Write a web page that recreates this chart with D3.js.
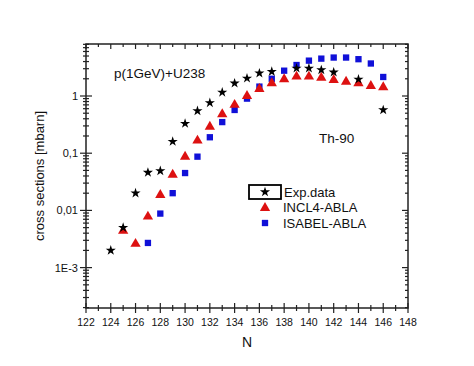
<!DOCTYPE html>
<html>
<head>
<meta charset="utf-8">
<script src="https://cdn.jsdelivr.net/npm/d3@7"></script>
<style>
  body { margin: 0; background: #fff; }
  text { font-family: "Liberation Sans", Arial, sans-serif; fill: #111; }
</style>
</head>
<body>
<svg id="chart" width="474" height="366"></svg>
<script>
// neutron number N and cross sections [mbarn]
const expN = [124, 125, 126, 127, 128, 129, 130, 131, 132, 133, 134, 135, 136, 137, 139, 140, 141, 142, 144, 146];
const expVal = [0.002, 0.005, 0.02, 0.046, 0.049, 0.16, 0.33, 0.55, 0.76, 1.16, 1.67, 2.04, 2.5, 2.67, 3.05, 3.05, 2.85, 2.6, 1.96, 0.57];

const inclN = [125, 126, 127, 128, 129, 130, 131, 132, 133, 134, 135, 136, 137, 138, 139, 140, 141, 142, 143, 144, 145, 146];
const inclVal = [0.0044, 0.0026, 0.0078, 0.0186, 0.042, 0.087, 0.166, 0.29, 0.48, 0.70, 1.0, 1.33, 1.67, 1.96, 2.18, 2.18, 2.09, 1.9, 1.78, 1.67, 1.5, 1.42];

const isaN = [127, 128, 129, 130, 131, 132, 133, 134, 135, 136, 137, 138, 139, 140, 141, 142, 143, 144, 145, 146];
const isaVal = [0.0027, 0.0088, 0.020, 0.045, 0.087, 0.19, 0.35, 0.57, 0.90, 1.46, 2.0, 2.77, 3.48, 4.15, 4.5, 4.7, 4.7, 4.4, 3.7, 2.15];

const xTicks = d3.range(122, 149, 2);
const xMinor = d3.range(123, 148, 2);
const yTicks = [1e-3, 0.01, 0.1, 1];
const yLabels = ["1E-3", "0,01", "0,1", "1"];

const svg = d3.select("#chart");
const L = 86, R = 408, T = 44, B = 308;

const x = d3.scaleLinear().domain([122, 148]).range([L, R]);
const y = d3.scaleLog().domain([Math.pow(10, -3.706), Math.pow(10, 0.909)]).range([B, T]);

const yMinor = [];
for (let d = -4; d <= 1; d++) {
    for (let k = 2; k <= 9; k++) {
        const v = k * Math.pow(10, d);
        if (v >= y.domain()[0] && v <= y.domain()[1]) yMinor.push(v);
    }
}

const ax = svg.append("g").attr("stroke", "#222").attr("stroke-width", 1.2);

// frame
ax.append("rect")
    .attr("x", L).attr("y", T)
    .attr("width", R - L).attr("height", B - T)
    .attr("fill", "none").attr("stroke-width", 1.5);

// bottom ticks (crossing), top ticks (inside)
ax.selectAll(".xb").data(xTicks).enter().append("line")
    .attr("x1", d => x(d)).attr("x2", d => x(d))
    .attr("y1", B - 5).attr("y2", B + 5);
ax.selectAll(".xbm").data(xMinor).enter().append("line")
    .attr("x1", d => x(d)).attr("x2", d => x(d))
    .attr("y1", B - 3).attr("y2", B + 3);
ax.selectAll(".xt").data(xTicks).enter().append("line")
    .attr("x1", d => x(d)).attr("x2", d => x(d))
    .attr("y1", T).attr("y2", T + 5);
ax.selectAll(".xtm").data(xMinor).enter().append("line")
    .attr("x1", d => x(d)).attr("x2", d => x(d))
    .attr("y1", T).attr("y2", T + 3);

// left ticks (crossing), right ticks (inside)
ax.selectAll(".yl").data(yTicks).enter().append("line")
    .attr("x1", L - 6).attr("x2", L + 6)
    .attr("y1", d => y(d)).attr("y2", d => y(d));
ax.selectAll(".ylm").data(yMinor).enter().append("line")
    .attr("x1", L - 3).attr("x2", L + 3)
    .attr("y1", d => y(d)).attr("y2", d => y(d));
ax.selectAll(".yr").data(yTicks).enter().append("line")
    .attr("x1", R - 6).attr("x2", R)
    .attr("y1", d => y(d)).attr("y2", d => y(d));
ax.selectAll(".yrm").data(yMinor).enter().append("line")
    .attr("x1", R - 3).attr("x2", R)
    .attr("y1", d => y(d)).attr("y2", d => y(d));

// tick labels
svg.selectAll(".xl").data(xTicks).enter().append("text")
    .attr("x", d => x(d)).attr("y", B + 18)
    .attr("text-anchor", "middle").attr("font-size", 10.5)
    .text(d => d);
svg.selectAll(".ylab").data(yTicks).enter().append("text")
    .attr("x", L - 8).attr("y", d => y(d) + 4)
    .attr("text-anchor", "end").attr("font-size", 11)
    .text((d, i) => yLabels[i]);

// axis titles
svg.append("text")
    .attr("x", x(135)).attr("y", 347)
    .attr("text-anchor", "middle").attr("font-size", 14)
    .text("N");
svg.append("text")
    .attr("transform", `translate(44,${(T + B) / 2}) rotate(-90)`)
    .attr("text-anchor", "middle").attr("font-size", 13)
    .text("cross sections [mbarn]");

// annotations
svg.append("text").attr("x", 114).attr("y", 78).attr("font-size", 13.5).text("p(1GeV)+U238");
svg.append("text").attr("x", 319).attr("y", 143).attr("font-size", 13.5).text("Th-90");

const star = d3.symbol().type(d3.symbolStar).size(32);
const tri = d3.symbol().type(d3.symbolTriangle).size(46);
const sq = d3.symbol().type(d3.symbolSquare).size(40);

svg.append("g").selectAll("path")
    .data(isaN.map((n, i) => [n, isaVal[i]]))
    .enter().append("path")
    .attr("d", sq)
    .attr("transform", d => `translate(${x(d[0])},${y(d[1])})`)
    .attr("fill", "#1010d8");

svg.append("g").selectAll("path")
    .data(inclN.map((n, i) => [n, inclVal[i]]))
    .enter().append("path")
    .attr("d", tri)
    .attr("transform", d => `translate(${x(d[0])},${y(d[1])})`)
    .attr("fill", "#dd1111");

svg.append("g").selectAll("path")
    .data(expN.map((n, i) => [n, expVal[i]]))
    .enter().append("path")
    .attr("d", star)
    .attr("transform", d => `translate(${x(d[0])},${y(d[1])})`)
    .attr("fill", "#000");

// legend
const lg = svg.append("g");
lg.append("rect")
    .attr("x", 249).attr("y", 185).attr("width", 32).attr("height", 14)
    .attr("fill", "none").attr("stroke", "#000").attr("stroke-width", 1.8);
lg.append("path").attr("d", star).attr("transform", "translate(265,192)").attr("fill", "#000");
lg.append("path").attr("d", tri).attr("transform", "translate(265,208)").attr("fill", "#dd1111");
lg.append("path").attr("d", sq).attr("transform", "translate(265,223)").attr("fill", "#1010d8");
const lgText = ["Exp.data", "INCL4-ABLA", "ISABEL-ABLA"];
lg.selectAll("text").data(lgText).enter().append("text")
    .attr("x", (d, i) => i === 0 ? 284 : 283)
    .attr("y", (d, i) => 196.5 + i * 15.5)
    .attr("font-size", 13)
    .text(d => d);
</script>
</body>
</html>
